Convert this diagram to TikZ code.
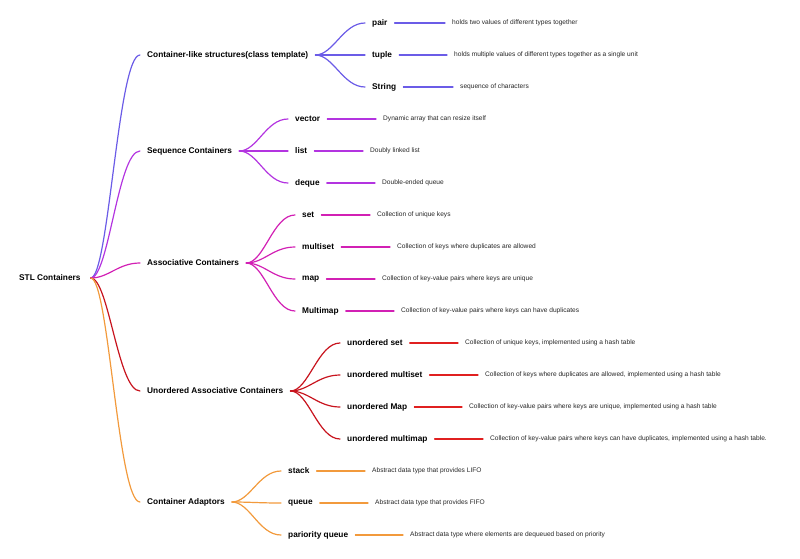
\documentclass[tikz,border=0pt]{standalone}
\usepackage{fontspec}
\setmainfont{Liberation Sans}
\definecolor{cA}{HTML}{6B5CE7}
\definecolor{cB}{HTML}{B334E0}
\definecolor{cC}{HTML}{D220B4}
\definecolor{cD}{HTML}{C8141E}
\definecolor{cDl}{HTML}{E02020}
\definecolor{cE}{HTML}{F29A3C}
\tikzset{
 lab/.style={anchor=west,inner sep=0pt,text=black,font=\bfseries\fontsize{8.3}{9}\selectfont},
 dsc/.style={anchor=west,inner sep=0pt,text=black!85,font=\fontsize{6.6}{7}\selectfont},
 br/.style={line width=1.2pt,line cap=round},
}
\newcommand{\cvto}[3]{\draw[br,#1] (#2) .. controls ++(18pt,0pt) and ([xshift=-22pt]#3) .. (#3);}
\newcommand{\leaf}[6]{%
 \node[lab] (#1) at (#2,#3) {#4};
 \node[dsc] (#1d) at (#5,#3) {#6};
 \draw[br] ([xshift=7pt]#1.east) -- ([xshift=-7pt]#1d.west);
}
\begin{document}
\begin{tikzpicture}[x=1pt,y=-1pt]
\useasboundingbox (0,0) rectangle (800,559);
\node[lab] (root) at (19,278) {STL Containers};
\node[lab] (a) at (147,55) {Container-like structures(class template)};
\node[lab] (b) at (147,151) {Sequence Containers};
\node[lab] (c) at (147,263) {Associative Containers};
\node[lab] (d) at (147,391) {Unordered Associative Containers};
\node[lab] (e) at (147,502) {Container Adaptors};
\coordinate (r0) at ([xshift=10pt]root.east);
\foreach \n/\c in {a/cA,b/cB,c/cC,d/cD,e/cE}{
 \coordinate (t\n) at ([xshift=-7pt]\n.west);
 \cvto{\c}{r0}{t\n}
}
\begin{scope}[cA]
\leaf{a1}{372}{23}{pair}{452}{holds two values of different types together}
\leaf{a2}{372}{55}{tuple}{454}{holds multiple values of different types together as a single unit}
\leaf{a3}{372}{87}{String}{460}{sequence of characters}
\coordinate (fa) at ([xshift=7pt]a.east);
\foreach \n in {a1,a2,a3}{\coordinate (t) at ([xshift=-7pt]\n.west); \cvto{cA}{fa}{t}}
\end{scope}
\begin{scope}[cB]
\leaf{b1}{295}{119}{vector}{383}{Dynamic array that can resize itself}
\leaf{b2}{295}{151}{list}{370}{Doubly linked list}
\leaf{b3}{295}{183}{deque}{382}{Double-ended queue}
\coordinate (fb) at ([xshift=7pt]b.east);
\foreach \n in {b1,b2,b3}{\coordinate (t) at ([xshift=-7pt]\n.west); \cvto{cB}{fb}{t}}
\end{scope}
\begin{scope}[cC]
\leaf{c1}{302}{215}{set}{377}{Collection of unique keys}
\leaf{c2}{302}{247}{multiset}{397}{Collection of keys where duplicates are allowed}
\leaf{c3}{302}{279}{map}{382}{Collection of key-value pairs where keys are unique}
\leaf{c4}{302}{311}{Multimap}{401}{Collection of key-value pairs where keys can have duplicates}
\coordinate (fc) at ([xshift=7pt]c.east);
\foreach \n in {c1,c2,c3,c4}{\coordinate (t) at ([xshift=-7pt]\n.west); \cvto{cC}{fc}{t}}
\end{scope}
\begin{scope}[cDl]
\leaf{d1}{347}{343}{unordered set}{465}{Collection of unique keys, implemented using a hash table}
\leaf{d2}{347}{375}{unordered multiset}{485}{Collection of keys where duplicates are allowed, implemented using a hash table}
\leaf{d3}{347}{407}{unordered Map}{469}{Collection of key-value pairs where keys are unique, implemented using a hash table}
\leaf{d4}{347}{439}{unordered multimap}{490}{Collection of key-value pairs where keys can have duplicates, implemented using a hash table.}
\coordinate (fd) at ([xshift=7pt]d.east);
\foreach \n in {d1,d2,d3,d4}{\coordinate (t) at ([xshift=-7pt]\n.west); \cvto{cD}{fd}{t}}
\end{scope}
\begin{scope}[cE]
\leaf{e1}{288}{471}{stack}{372}{Abstract data type that provides LIFO}
\leaf{e2}{288}{503}{queue}{375}{Abstract data type that provides FIFO}
\leaf{e3}{288}{535}{pariority queue}{410}{Abstract data type where elements are dequeued based on priority}
\coordinate (fe) at ([xshift=7pt]e.east);
\foreach \n in {e1,e2,e3}{\coordinate (t) at ([xshift=-7pt]\n.west); \cvto{cE}{fe}{t}}
\end{scope}
\end{tikzpicture}
\end{document}
